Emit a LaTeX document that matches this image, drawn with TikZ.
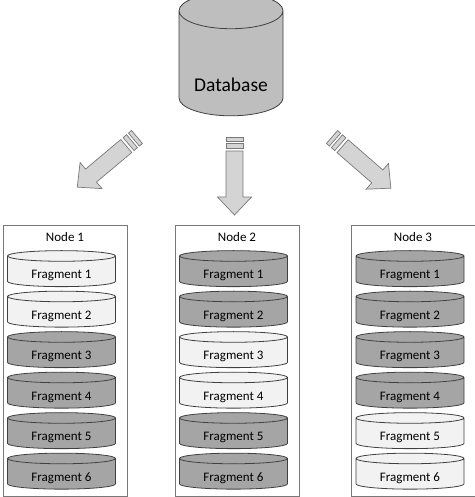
\documentclass[tikz,border=0pt]{standalone}
\usepackage{fontspec}
\setmainfont{Carlito}
\usepackage{tikz}
\usetikzlibrary{positioning, shapes.geometric}
\definecolor{fragdark}{RGB}{165,165,165}
\definecolor{fraglight}{RGB}{242,242,242}
\definecolor{dbgray}{RGB}{190,190,190}
\definecolor{arrowgray}{RGB}{212,212,212}
\definecolor{edgegray}{RGB}{120,120,120}
\tikzset{
  nodebox/.style={draw=edgegray, line width=1pt, minimum width=124pt, minimum height=271pt, inner sep=0pt},
  cyl/.style={cylinder, shape border rotate=90, draw=black!75, line width=0.8pt, inner sep=0pt, outer sep=0pt},
  frag/.style={cyl, cylinder uses custom fill, cylinder body fill=#1, cylinder end fill=#1,
    minimum width=108pt, minimum height=36pt, aspect=0.23},
  caption/.style={font=\fontsize{13}{14}\selectfont},
  arrowbody/.style={draw=edgegray, fill=arrowgray, line width=0.7pt},
  blockarrow/.pic={
    \draw[arrowbody] (-8.5,14) -- (8.5,14) -- (8.5,60) -- (17,60) -- (0,78) -- (-17,60) -- (-8.5,60) -- cycle;
    \draw[arrowbody] (-8.5,6.5) rectangle (8.5,11);
    \draw[arrowbody] (-8.5,0) rectangle (8.5,4);
  }
}

\begin{document}
\begin{tikzpicture}[x=1pt, y=-1pt]
  \useasboundingbox (0,0) rectangle (474,497);
  % database
  \fill[gray] (209,0) rectangle (260,4);
  \node[cyl, cylinder uses custom fill, cylinder body fill=dbgray, cylinder end fill=dbgray,
    minimum width=104pt, minimum height=123pt, aspect=0.95] (db) at (231,63.5) {\phantom{Database}};
  \node[font=\fontsize{19.5}{21}\selectfont] (dblabel) at (231,85) {Database};
  % arrows
  \coordinate (tailleft) at (137,137);
  \coordinate (tailmid) at (234.5,137);
  \coordinate (tailright) at (332,137);
  \pic[rotate=-50] at (tailleft) {blockarrow};
  \pic at (tailmid) {blockarrow};
  \pic[rotate=49] at (tailright) {blockarrow};
  % node columns
  \node[nodebox] (box1) at (65,360.5) {};
  \node[nodebox] (box2) at (237,360.5) {};
  \node[nodebox, minimum width=130pt] (box3) at (416,360.5) {};
  \node[caption, below=4pt of box1.north] (title1) {Node 1};
  \node[caption, below=4pt of box2.north] (title2) {Node 2};
  \node[caption, below=4pt of box3.north, xshift=-3pt] (title3) {Node 3};
  \foreach \b/\x/\cols in {1/61.5/{fraglight,fraglight,fragdark,fragdark,fragdark,fragdark},
                           2/233.5/{fragdark,fragdark,fraglight,fraglight,fragdark,fragdark},
                           3/410/{fragdark,fragdark,fragdark,fragdark,fraglight,fraglight}} {
    \foreach \c [count=\i] in \cols {
      \node[frag=\c] (frag\b\i) at (\x, {271.5+(\i-1)*40.5}) {\phantom{Fragment \i}};
      \node[caption] (text\b\i) at (\x, {275.5+(\i-1)*40.5}) {Fragment \i};
    }
  }
\end{tikzpicture}
\end{document}
